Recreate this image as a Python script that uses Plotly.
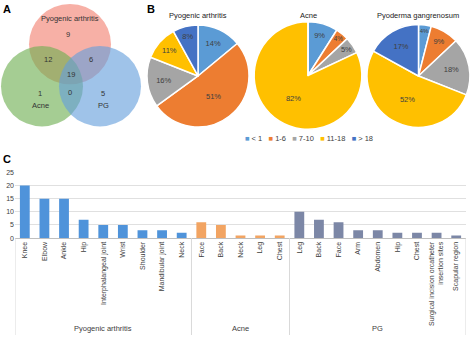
import plotly.graph_objects as go

W, H = 474, 338

# ---- Panel A: Venn counts ----
venn_sets = ["Pyogenic arthritis", "Acne", "PG"]
venn_regions = ["PA only", "PA+Acne", "PA+PG", "All", "Acne only", "Acne+PG", "PG only"]
venn_counts = [9, 12, 6, 19, 1, 0, 5]

# ---- Panel B: age distribution (%) ----
age_groups = ["< 1", "1-6", "7-10", "11-18", "> 18"]
age_colors = ["#5b9bd5", "#ed7d31", "#a5a5a5", "#ffc000", "#4472c4"]
pie_titles = ["Pyogenic arthritis", "Acne", "Pyoderma gangrenosum"]
pa_age = [14, 51, 16, 11, 8]
acne_age = [9, 4, 5, 82, 0]
pg_age = [4, 9, 18, 52, 17]

# ---- Panel C: lesion sites ----
group_names = ["Pyogenic arthritis", "Acne", "PG"]
pa_sites = ["Knee", "Elbow", "Ankle", "Hip", "Interphalangeal joint", "Wrist",
            "Shoulder", "Mandibular joint", "Neck"]
pa_counts = [20, 15, 15, 7, 5, 5, 3, 3, 2]
acne_sites = ["Face", "Back", "Neck", "Leg", "Chest"]
acne_counts = [6, 5, 1, 1, 1]
pg_sites = ["Leg", "Back", "Face", "Arm", "Abdomen", "Hip", "Chest",
            "Surgical incision orcatheter<br>insertion sites", "Scapular region"]
pg_counts = [10, 7, 6, 3, 3, 2, 2, 2, 1]
bar_colors = ["#4f93da", "#f2a462", "#7c87a6"]

TXT = "#404040"
FONT = "Liberation Sans"


def px_x(p):
    return p / W


def px_y(p):
    return 1 - p / H


def note(x, y, text, size=7.5, color=TXT, xref="paper", yref="paper", xanchor="center"):
    fig.add_annotation(xref=xref, yref=yref, x=x, y=y, text=text, showarrow=False,
                       xanchor=xanchor, yanchor="middle",
                       font=dict(size=size, color=color, family=FONT))


fig = go.Figure()

# ---------- bars ----------
groups = [(pa_sites, pa_counts), (acne_sites, acne_counts), (pg_sites, pg_counts)]
tickvals, ticktext, bounds = [], [], [-0.5]
pos = 0
for (sites, counts), col, name in zip(groups, bar_colors, group_names):
    xs = list(range(pos, pos + len(sites)))
    fig.add_trace(go.Bar(x=xs, y=counts, name=name, marker=dict(color=col, line=dict(width=0)),
                         width=0.5, xaxis="x", yaxis="y", showlegend=False))
    tickvals += xs
    ticktext += sites
    pos += len(sites)
    bounds.append(pos - 0.5)

bar_bottom = px_y(239)
for b in bounds:
    fig.add_shape(type="line", xref="x", yref="paper", x0=b, x1=b, y0=0, y1=bar_bottom,
                  line=dict(color="#d9d9d9", width=1))
for i, name in enumerate(group_names):
    note((bounds[i] + bounds[i + 1]) / 2, px_y(331), name, xref="x")

# ---------- pies ----------
pie_domains = [
    dict(x=[px_x(147), px_x(249)], y=[px_y(126), px_y(21)]),
    dict(x=[px_x(254), px_x(362)], y=[px_y(128), px_y(18)]),
    dict(x=[px_x(367), px_x(470)], y=[px_y(126), px_y(21)]),
]
pie_centers = [198, 308, 418]
for vals, dom, title, cx in zip([pa_age, acne_age, pg_age], pie_domains, pie_titles, pie_centers):
    fig.add_trace(go.Pie(
        labels=age_groups, values=vals, domain=dom, sort=False, direction="clockwise",
        rotation=0, marker=dict(colors=age_colors, line=dict(color="white", width=1.5)),
        text=[f"{v}%" if v > 0 else "" for v in vals], textinfo="text",
        textposition="inside", insidetextorientation="horizontal",
        textfont=dict(size=7.5, color=TXT, family=FONT), showlegend=False,
        hoverinfo="label+value"))
    note(px_x(cx), px_y(12), title, color="#222")

# legend row for the pies
legend_txt = "&#160;&#160;&#160;".join(
    f"<span style='color:{c}'>■</span> {g.replace('<', '&lt;').replace('>', '&gt;')}"
    for g, c in zip(age_groups, age_colors))
note(px_x(309), px_y(137), legend_txt)

# ---------- Venn ----------
venn_circles = [  # centre x, centre y, radius, fill (in x2/y2 pixel units)
    (70, 41, 41, "rgba(242,128,112,0.62)"),
    (42, 84, 41, "rgba(110,174,80,0.62)"),
    (100, 84, 41, "rgba(100,158,220,0.62)"),
]
for cx, cy, r, fc in venn_circles:
    fig.add_shape(type="circle", xref="x2", yref="y2", x0=cx - r, x1=cx + r, y0=cy - r, y1=cy + r,
                  fillcolor=fc, line=dict(width=0), layer="below")
venn_count_pos = [(68, 31), (48, 57), (91, 57), (71, 72), (40, 91), (70, 90), (103, 91)]
for (x, y), n in zip(venn_count_pos, venn_counts):
    note(x, y, str(n), color="#333", xref="x2", yref="y2")
for (x, y), s in zip([(70, 15), (40, 104), (103, 104)], venn_sets):
    note(x, y, s, color="#333", xref="x2", yref="y2")

# panel letters
for letter, (x, y) in zip("ABC", [(1, 5), (145, 5), (1, 158)]):
    note(px_x(x), px_y(y), f"<b>{letter}</b>", size=11, color="black", xanchor="left")

fig.update_layout(
    width=W, height=H, margin=dict(l=0, r=0, t=0, b=0),
    paper_bgcolor="white", plot_bgcolor="white", showlegend=False,
    font=dict(family=FONT, color=TXT),
    xaxis=dict(domain=[px_x(15), px_x(466)], range=[-0.5, pos - 0.5], tickmode="array",
               tickvals=tickvals, ticktext=ticktext, tickangle=-90,
               tickfont=dict(size=7, color=TXT, family=FONT), showline=True,
               linecolor="#bfbfbf", linewidth=1, showgrid=False, ticks="", fixedrange=True),
    yaxis=dict(domain=[px_y(239), px_y(172)], range=[0, 25], dtick=5, showgrid=True,
               gridcolor="#e0e0e0", zeroline=False, showline=False, ticks="",
               tickfont=dict(size=7, color=TXT, family=FONT), fixedrange=True),
    xaxis2=dict(domain=[0, px_x(145)], range=[0, 145], visible=False, anchor="y2"),
    yaxis2=dict(domain=[px_y(130), 1], range=[130, 0], visible=False, anchor="x2"),
)

fig.write_html("out.html")
